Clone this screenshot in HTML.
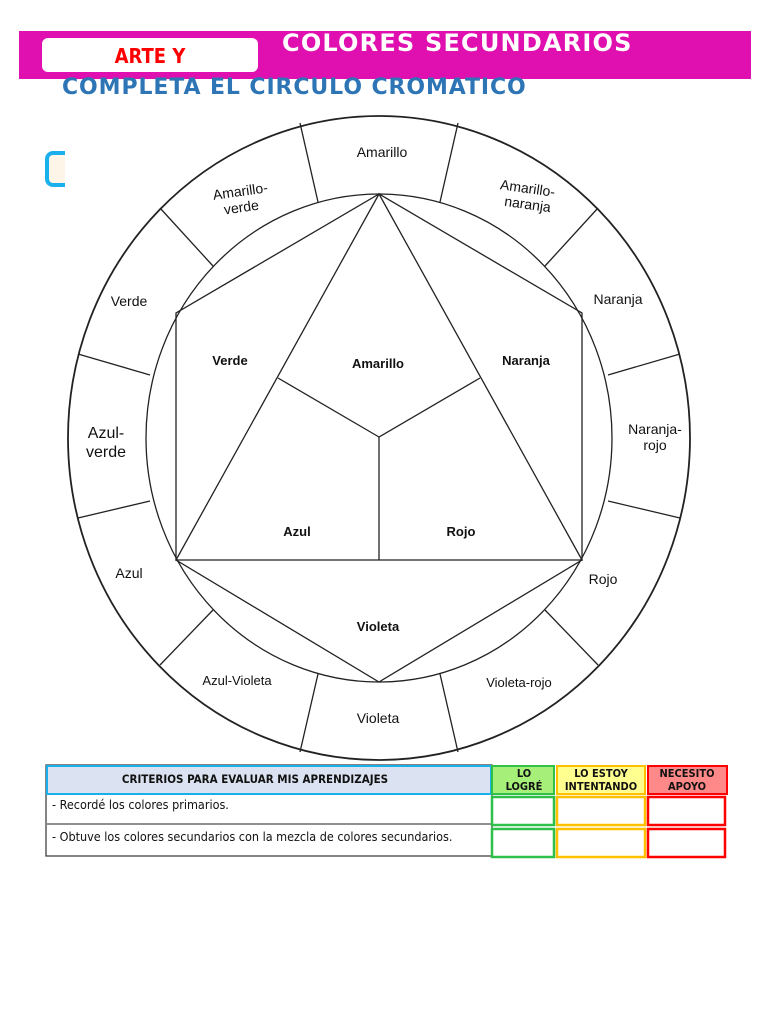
<!DOCTYPE html>
<html><head><meta charset="utf-8"><style>
body{margin:0;width:768px;height:1024px;background:#fff;position:relative;overflow:hidden;font-family:"Liberation Sans","DejaVu Sans",sans-serif}
.bar{position:absolute;left:19px;top:31px;width:732px;height:48px;background:#e010b0}
.pill{position:absolute;left:42px;top:38px;width:216px;height:34px;background:#fff;border-radius:6px;color:#f00;font-weight:bold;font-size:20px;text-align:center;line-height:36px;font-family:"DejaVu Sans Condensed","DejaVu Sans",sans-serif}
.t1{position:absolute;left:282px;top:29px;color:#fff;font-weight:bold;font-size:24px;font-family:"DejaVu Sans",sans-serif;letter-spacing:1.2px}
.t2{position:absolute;left:62px;top:75px;color:#2e75b6;font-weight:bold;font-size:22px;font-family:"DejaVu Sans",sans-serif;letter-spacing:0.9px}
</style></head><body>
<div class="bar"></div>
<div class="pill">ARTE Y</div>
<div class="t1">COLORES SECUNDARIOS</div>
<div class="t2">COMPLETA EL CIRCULO CROMATICO</div>
<div style="position:absolute;left:45px;top:151px;width:20px;height:36px;border:4px solid #1ab0ee;border-right:none;border-radius:8px 0 0 8px;box-sizing:border-box;background:#fdf6e8"></div>
<svg width="768" height="1024" style="position:absolute;left:0;top:0" font-family="Liberation Sans, sans-serif">
<g fill="none" stroke="#222" stroke-width="1.3">
<ellipse cx="379" cy="438" rx="311" ry="322" stroke-width="1.8"/>
<ellipse cx="379" cy="438" rx="233" ry="244"/>
<line x1="318" y1="202" x2="300" y2="123"/><line x1="440" y1="202" x2="458" y2="123"/>
<line x1="213" y1="266" x2="160" y2="208"/><line x1="545" y1="266" x2="598" y2="208"/>
<line x1="150" y1="375" x2="78" y2="354"/><line x1="608" y1="375" x2="680" y2="354"/>
<line x1="150" y1="501" x2="78" y2="518"/><line x1="608" y1="501" x2="680" y2="518"/>
<line x1="213" y1="610" x2="160" y2="665"/><line x1="545" y1="610" x2="598" y2="665"/>
<line x1="318" y1="674" x2="300" y2="752"/><line x1="440" y1="674" x2="458" y2="752"/>
<polygon points="379,194 582,313 582,560 379,682 176,560 176,313"/>
<polygon points="379,194 582,560 176,560"/>
<line x1="379" y1="437" x2="278" y2="378"/><line x1="379" y1="437" x2="480" y2="378"/><line x1="379" y1="437" x2="379" y2="560"/>
</g>
<g fill="#111" font-size="14" text-anchor="middle">
<text x="382" y="157">Amarillo</text>
<text x="241" y="196" transform="rotate(-8 241 196)">Amarillo-</text><text x="242" y="212" transform="rotate(-8 242 212)">verde</text>
<text x="527" y="193" transform="rotate(8 527 193)">Amarillo-</text><text x="527" y="209" transform="rotate(8 527 209)">naranja</text>
<text x="129" y="306">Verde</text>
<text x="618" y="304">Naranja</text>
<text x="106" y="438" font-size="16">Azul-</text><text x="106" y="457" font-size="16">verde</text>
<text x="655" y="434">Naranja-</text><text x="655" y="450">rojo</text>
<text x="129" y="578">Azul</text>
<text x="603" y="584">Rojo</text>
<text x="237" y="685" font-size="13">Azul-Violeta</text>
<text x="519" y="687" font-size="13">Violeta-rojo</text>
<text x="378" y="723">Violeta</text>
<g font-weight="bold" font-size="13">
<text x="230" y="365">Verde</text><text x="378" y="368">Amarillo</text><text x="526" y="365">Naranja</text>
<text x="297" y="536">Azul</text><text x="461" y="536">Rojo</text><text x="378" y="631">Violeta</text>
</g>
</g>
<rect x="46" y="765" width="446" height="91" fill="#fff" stroke="#333" stroke-width="1.2"/>
<rect x="47" y="766" width="444" height="28" fill="#dbe3f2" stroke="#1ab0ee" stroke-width="2"/>
<line x1="47" y1="824" x2="491" y2="824" stroke="#222" stroke-width="1"/>
<rect x="492" y="766" width="62" height="28" fill="#a6f07a" stroke="#2fc04a" stroke-width="2"/>
<rect x="557" y="766" width="88" height="28" fill="#ffff90" stroke="#ffc000" stroke-width="2"/>
<rect x="648" y="766" width="79" height="28" fill="#ff8888" stroke="#ff0000" stroke-width="2"/>
<g fill="none" stroke-width="2.5">
<rect x="492" y="797" width="62" height="28" stroke="#2fc04a"/><rect x="492" y="829" width="62" height="28" stroke="#2fc04a"/>
<rect x="557" y="797" width="88" height="28" stroke="#ffc000"/><rect x="557" y="829" width="88" height="28" stroke="#ffc000"/>
<rect x="648" y="797" width="77" height="28" stroke="#ff0000"/><rect x="648" y="829" width="77" height="28" stroke="#ff0000"/>
</g>
<g font-family="DejaVu Sans Condensed, DejaVu Sans, sans-serif" fill="#111">
<text x="255" y="783" text-anchor="middle" font-weight="bold" font-size="11.5">CRITERIOS PARA EVALUAR MIS APRENDIZAJES</text>
<text x="52" y="809" font-size="12.5">- Recordé los colores primarios.</text>
<text x="52" y="841" font-size="12.5">- Obtuve los colores secundarios con la mezcla de colores secundarios.</text>
<g font-weight="bold" text-anchor="middle" font-size="11">
<text x="524" y="777">LO</text><text x="524" y="790">LOGRÉ</text>
<text x="601" y="777">LO ESTOY</text><text x="601" y="790">INTENTANDO</text>
<text x="687" y="777">NECESITO</text><text x="687" y="790">APOYO</text>
</g></g>
</svg>
</body></html>
